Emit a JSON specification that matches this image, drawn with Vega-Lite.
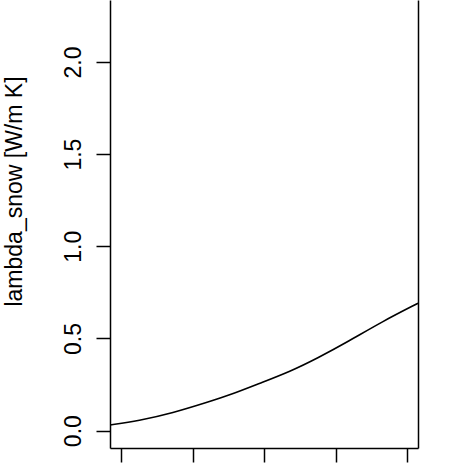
{
  "$schema": "https://vega.github.io/schema/vega-lite/v6.json",
  "width": 308,
  "height": 448,
  "autosize": {"type": "none"},
  "padding": {"left": 110, "top": 0, "right": 56, "bottom": 26},
  "background": "white",
  "config": {
    "view": {"stroke": null},
    "font": "Liberation Sans",
    "axis": {"grid": false, "domainColor": "black", "tickColor": "black", "domainWidth": 1.5, "tickWidth": 1.5, "labelColor": "black", "titleColor": "black", "labelFont": "Liberation Sans", "titleFont": "Liberation Sans", "titleFontWeight": "normal"}
  },
  "data": {"values": [
    {"rho": 84, "lambda": 0.031},
    {"rho": 124, "lambda": 0.054},
    {"rho": 171, "lambda": 0.095},
    {"rho": 224, "lambda": 0.159},
    {"rho": 252, "lambda": 0.194},
    {"rho": 294, "lambda": 0.258},
    {"rho": 336, "lambda": 0.321},
    {"rho": 375, "lambda": 0.395},
    {"rho": 417, "lambda": 0.483},
    {"rho": 465, "lambda": 0.592},
    {"rho": 515, "lambda": 0.691}
  ]},
  "layer": [
    {
      "mark": {"type": "line", "color": "black", "strokeWidth": 1.6, "interpolate": "basis", "clip": true},
      "encoding": {
        "x": {"field": "rho", "type": "quantitative", "scale": {"domain": [84, 515], "nice": false, "zero": false},
          "axis": {"title": null, "values": [100, 200, 300, 400, 500], "labels": false, "tickSize": 14, "domain": true, "orient": "bottom"}},
        "y": {"field": "lambda", "type": "quantitative", "scale": {"domain": [-0.094, 2.336], "nice": false, "zero": false},
          "axis": {"title": "lambda_snow [W/m K]", "values": [0, 0.5, 1, 1.5, 2], "format": ".1f", "tickSize": 14,
            "labelAngle": -90, "labelAlign": "center", "labelBaseline": "alphabetic", "labelPadding": 16, "labelFontSize": 23,
            "titleFontSize": 23, "titleAngle": -90, "titleAlign": "center", "titleBaseline": "alphabetic", "titleX": -89, "titleY": 191}}
      }
    },
    {
      "mark": {"type": "line", "opacity": 0},
      "encoding": {
        "x": {"field": "rho", "type": "quantitative"},
        "y": {"field": "lambda", "type": "quantitative",
          "axis": {"orient": "right", "title": null, "labels": false, "ticks": false, "domain": true}}
      }
    }
  ],
  "resolve": {"axis": {"y": "independent"}}
}
